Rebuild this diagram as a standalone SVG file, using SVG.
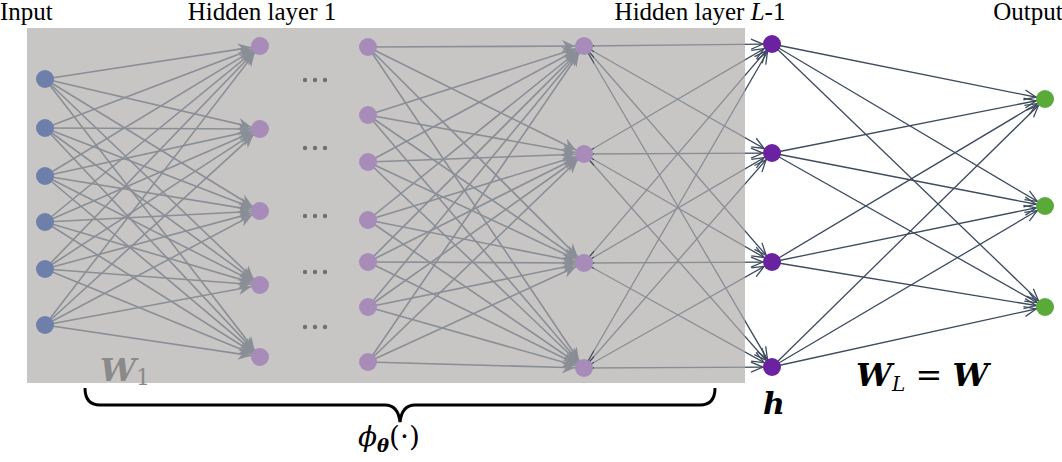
<svg xmlns="http://www.w3.org/2000/svg" width="1062" height="462" viewBox="0 0 1062 462">
<style>
.t{font-family:"Liberation Serif","Times New Roman",serif;font-size:25px;fill:#000}
.m{font-family:"DejaVu Serif","Liberation Serif",serif;font-style:italic;font-weight:bold}
.g line{stroke:#8a8e96;stroke-width:1.6;marker-end:url(#ag)}
.d line{stroke:#3d4b5e;stroke-width:1.3;marker-end:url(#ad)}
.in{fill:#6e80aa}.h1{fill:#a78cba}.hl{fill:#6a22a0}.out{fill:#5aaa3a}
.dots{fill:#707070}
</style>
<defs>
<marker id="ag" markerUnits="userSpaceOnUse" markerWidth="20" markerHeight="20" refX="9" refY="0" viewBox="-14 -7 20 14" orient="auto" overflow="visible"><path d="M-13,-6 L0,0 L-13,6 L-9,0 Z" fill="#8a8e96"/></marker>
<marker id="ad" markerUnits="userSpaceOnUse" markerWidth="20" markerHeight="20" refX="9" refY="0" viewBox="-14 -7 20 14" orient="auto" overflow="visible"><path d="M-12,-5 L0,0 L-12,5 L0,0 Z" fill="none" stroke="#3d4b5e" stroke-width="1.3"/></marker>
</defs>
<rect x="27" y="28" width="718" height="355" fill="#c8c6c4"/>
<g id="connectors">
<g class="g">
<line x1="45" y1="79" x2="260" y2="46"/><line x1="45" y1="79" x2="260" y2="129"/><line x1="45" y1="79" x2="260" y2="211"/><line x1="45" y1="79" x2="260" y2="285"/><line x1="45" y1="79" x2="260" y2="357"/>
<line x1="45" y1="128" x2="260" y2="46"/><line x1="45" y1="128" x2="260" y2="129"/><line x1="45" y1="128" x2="260" y2="211"/><line x1="45" y1="128" x2="260" y2="285"/><line x1="45" y1="128" x2="260" y2="357"/>
<line x1="45" y1="176" x2="260" y2="46"/><line x1="45" y1="176" x2="260" y2="129"/><line x1="45" y1="176" x2="260" y2="211"/><line x1="45" y1="176" x2="260" y2="285"/><line x1="45" y1="176" x2="260" y2="357"/>
<line x1="45" y1="222" x2="260" y2="46"/><line x1="45" y1="222" x2="260" y2="129"/><line x1="45" y1="222" x2="260" y2="211"/><line x1="45" y1="222" x2="260" y2="285"/><line x1="45" y1="222" x2="260" y2="357"/>
<line x1="45" y1="269" x2="260" y2="46"/><line x1="45" y1="269" x2="260" y2="129"/><line x1="45" y1="269" x2="260" y2="211"/><line x1="45" y1="269" x2="260" y2="285"/><line x1="45" y1="269" x2="260" y2="357"/>
<line x1="45" y1="325" x2="260" y2="46"/><line x1="45" y1="325" x2="260" y2="129"/><line x1="45" y1="325" x2="260" y2="211"/><line x1="45" y1="325" x2="260" y2="285"/><line x1="45" y1="325" x2="260" y2="357"/>
<line x1="368" y1="47" x2="584" y2="46"/><line x1="368" y1="47" x2="584" y2="154"/><line x1="368" y1="47" x2="584" y2="263"/><line x1="368" y1="47" x2="584" y2="368"/>
<line x1="368" y1="115" x2="584" y2="46"/><line x1="368" y1="115" x2="584" y2="154"/><line x1="368" y1="115" x2="584" y2="263"/><line x1="368" y1="115" x2="584" y2="368"/>
<line x1="368" y1="162" x2="584" y2="46"/><line x1="368" y1="162" x2="584" y2="154"/><line x1="368" y1="162" x2="584" y2="263"/><line x1="368" y1="162" x2="584" y2="368"/>
<line x1="368" y1="220" x2="584" y2="46"/><line x1="368" y1="220" x2="584" y2="154"/><line x1="368" y1="220" x2="584" y2="263"/><line x1="368" y1="220" x2="584" y2="368"/>
<line x1="368" y1="262" x2="584" y2="46"/><line x1="368" y1="262" x2="584" y2="154"/><line x1="368" y1="262" x2="584" y2="263"/><line x1="368" y1="262" x2="584" y2="368"/>
<line x1="368" y1="307" x2="584" y2="46"/><line x1="368" y1="307" x2="584" y2="154"/><line x1="368" y1="307" x2="584" y2="263"/><line x1="368" y1="307" x2="584" y2="368"/>
<line x1="368" y1="362" x2="584" y2="46"/><line x1="368" y1="362" x2="584" y2="154"/><line x1="368" y1="362" x2="584" y2="263"/><line x1="368" y1="362" x2="584" y2="368"/>
</g>
<g class="d">
<line x1="584" y1="46" x2="772" y2="44"/><line x1="584" y1="46" x2="772" y2="153"/><line x1="584" y1="46" x2="772" y2="262"/><line x1="584" y1="46" x2="772" y2="367"/>
<line x1="584" y1="154" x2="772" y2="44"/><line x1="584" y1="154" x2="772" y2="153"/><line x1="584" y1="154" x2="772" y2="262"/><line x1="584" y1="154" x2="772" y2="367"/>
<line x1="584" y1="263" x2="772" y2="44"/><line x1="584" y1="263" x2="772" y2="153"/><line x1="584" y1="263" x2="772" y2="262"/><line x1="584" y1="263" x2="772" y2="367"/>
<line x1="584" y1="368" x2="772" y2="44"/><line x1="584" y1="368" x2="772" y2="153"/><line x1="584" y1="368" x2="772" y2="262"/><line x1="584" y1="368" x2="772" y2="367"/>
<line x1="772" y1="44" x2="1045" y2="99"/><line x1="772" y1="44" x2="1045" y2="206"/><line x1="772" y1="44" x2="1045" y2="307"/>
<line x1="772" y1="153" x2="1045" y2="99"/><line x1="772" y1="153" x2="1045" y2="206"/><line x1="772" y1="153" x2="1045" y2="307"/>
<line x1="772" y1="262" x2="1045" y2="99"/><line x1="772" y1="262" x2="1045" y2="206"/><line x1="772" y1="262" x2="1045" y2="307"/>
<line x1="772" y1="367" x2="1045" y2="99"/><line x1="772" y1="367" x2="1045" y2="206"/><line x1="772" y1="367" x2="1045" y2="307"/>
</g>
<rect x="594" y="28" width="151" height="355" fill="#c8c6c4" opacity="0.55"/>
</g>
<g id="input" class="in"><circle cx="45" cy="79" r="9"/><circle cx="45" cy="128" r="9"/><circle cx="45" cy="176" r="9"/><circle cx="45" cy="222" r="9"/><circle cx="45" cy="269" r="9"/><circle cx="45" cy="325" r="9"/></g>
<g id="hidden1" class="h1"><circle cx="260" cy="46" r="9"/><circle cx="260" cy="129" r="9"/><circle cx="260" cy="211" r="9"/><circle cx="260" cy="285" r="9"/><circle cx="260" cy="357" r="9"/></g>
<g id="dots" class="dots">
<circle cx="305" cy="80" r="2.2"/><circle cx="315" cy="80" r="2.2"/><circle cx="325" cy="80" r="2.2"/>
<circle cx="305" cy="148" r="2.2"/><circle cx="315" cy="148" r="2.2"/><circle cx="325" cy="148" r="2.2"/>
<circle cx="305" cy="216" r="2.2"/><circle cx="315" cy="216" r="2.2"/><circle cx="325" cy="216" r="2.2"/>
<circle cx="305" cy="272" r="2.2"/><circle cx="315" cy="272" r="2.2"/><circle cx="325" cy="272" r="2.2"/>
<circle cx="305" cy="327" r="2.2"/><circle cx="315" cy="327" r="2.2"/><circle cx="325" cy="327" r="2.2"/>
</g>
<g id="hiddenj" class="h1"><circle cx="368" cy="47" r="9"/><circle cx="368" cy="115" r="9"/><circle cx="368" cy="162" r="9"/><circle cx="368" cy="220" r="9"/><circle cx="368" cy="262" r="9"/><circle cx="368" cy="307" r="9"/><circle cx="368" cy="362" r="9"/></g>
<g id="hiddenk" class="h1"><circle cx="584" cy="46" r="9"/><circle cx="584" cy="154" r="9"/><circle cx="584" cy="263" r="9"/><circle cx="584" cy="368" r="9"/></g>
<g id="hiddenL" class="hl"><circle cx="772" cy="44" r="9"/><circle cx="772" cy="153" r="9"/><circle cx="772" cy="262" r="9"/><circle cx="772" cy="367" r="9"/></g>
<g id="output" class="out"><circle cx="1045" cy="99" r="9"/><circle cx="1045" cy="206" r="9"/><circle cx="1045" cy="307" r="9"/></g>
<g id="labels">
<text class="t" x="0" y="20">Input</text>
<text class="t" x="262" y="20" text-anchor="middle">Hidden layer 1</text>
<text class="t" x="700" y="20" text-anchor="middle">Hidden layer <tspan font-style="italic">L</tspan>-1</text>
<text class="t" x="1028" y="20" text-anchor="middle">Output</text>
<text class="m" x="100" y="381" font-size="32" fill="#8a8a8a">W<tspan font-style="normal" font-weight="normal" font-size="22" dy="4">1</tspan></text>
<text class="m" x="763" y="414" font-size="30">h</text>
<text class="m" x="856" y="386" font-size="32">W<tspan font-style="italic" font-weight="normal" font-size="20" dy="5">L</tspan><tspan dy="-5" font-style="normal" font-weight="normal"> = </tspan>W</text>
<path d="M85,388 Q85,405 100,405 L385,405 Q398,405 400,422 Q402,405 415,405 L700,405 Q715,405 715,388" fill="none" stroke="#000" stroke-width="3"/>
<text x="358" y="446" font-family="DejaVu Serif, Liberation Serif, serif" font-size="28" font-style="italic">ϕ<tspan font-size="18" font-weight="bold" dy="6">θ</tspan><tspan dy="-6" font-style="normal">(·)</tspan></text>
</g>
</svg>
